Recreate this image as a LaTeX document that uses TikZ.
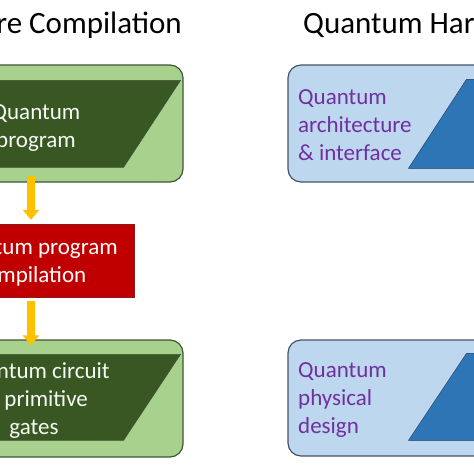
\documentclass[tikz,border=0pt]{standalone}
\usepackage{fontspec}
\setmainfont{Carlito}
\usetikzlibrary{arrows.meta}
\definecolor{leaf}{HTML}{A9D18E}
\definecolor{leafline}{HTML}{3F5636}
\definecolor{moss}{HTML}{385723}
\definecolor{brick}{HTML}{C00000}
\definecolor{brickline}{HTML}{8C1A1A}
\definecolor{sky}{HTML}{BDD7EE}
\definecolor{skyline}{HTML}{44546A}
\definecolor{ocean}{HTML}{2E75B6}
\definecolor{oceanline}{HTML}{203864}
\definecolor{plum}{HTML}{7030A0}
\definecolor{amber}{HTML}{FFC000}
\tikzset{
  panel/.style={line width=1.2pt, rounded corners=13pt, minimum height=117pt, inner sep=0pt},
  boxtext/.style={align=center, inner sep=0pt, font=\fontsize{23}{28}\selectfont},
  hwtext/.style={align=left, anchor=west, inner sep=0pt, text=plum, font=\fontsize{23}{28}\selectfont},
  heading/.style={inner sep=0pt, font=\fontsize{31}{37}\selectfont},
  flow/.style={line width=8pt, amber, -{Triangle[width=16pt,length=10pt]}}
}
\begin{document}
\begin{tikzpicture}[x=1pt,y=-1pt]
\useasboundingbox (0,0) rectangle (474,474);
\clip (0,0) rectangle (474,474);
% headings
\node (swhead) [heading, anchor=base east] at (182,33) {Software Compilation};
\node (hwhead) [heading, anchor=base west] at (303,33) {Quantum Hardware};
% software side
\node (progbox) [panel, fill=leaf, draw=leafline, minimum width=293pt] at (36.5,123.5) {};
\draw [fill=moss, draw=leafline] ([shift={(-3,16)}]progbox.north east)
      -- ++(-57,87) -- ++(-250,0) -- ++(57,-87) -- cycle;
\node (prog) [boxtext, text=white!90!leaf] at (36,128) {Quantum\\program};
\node (comp) [fill=brick, draw=brickline, minimum width=206pt, minimum height=73pt] at (31,260.5) {};
\node (comptext) [boxtext, text=white] at (31,263) {Quantum program\\compilation};
\node (circbox) [panel, fill=leaf, draw=leafline, minimum width=293pt] at (36.5,398.5) {};
\draw [fill=moss, draw=leafline] ([shift={(-3,15)}]circbox.north east)
      -- ++(-57,86) -- ++(-250,0) -- ++(57,-86) -- cycle;
\node (circ) [boxtext, text=white!90!leaf] at (34,401) {Quantum circuit\\of primitive\\gates};
\draw [flow, shorten <=-7pt, shorten >=4pt] (progbox.south -| comp.north) -- (comp.north);
\draw [flow, shorten <=4pt, shorten >=-6pt] (comp.south) -- (comp.south |- circbox.north);
% hardware side
\node (archbox) [panel, fill=sky, draw=skyline, minimum width=332pt] at (454,123.5) {};
\draw [fill=ocean, draw=oceanline] ([shift={(179,15)}]archbox.north west)
      -- ++(-58,89) -- ++(250,0) -- ++(-58,-89) -- cycle;
\node (arch) [hwtext] at (298,125) {Quantum\\architecture\\\& interface};
\node (physbox) [panel, fill=sky, draw=skyline, minimum width=332pt, minimum height=116pt] at (454,398) {};
\draw [fill=ocean, draw=oceanline] ([shift={(179,14)}]physbox.north west)
      -- ++(-58,87) -- ++(250,0) -- ++(-58,-87) -- cycle;
\node (phys) [hwtext] at (298,400) {Quantum\\physical\\design};
\end{tikzpicture}
\end{document}
